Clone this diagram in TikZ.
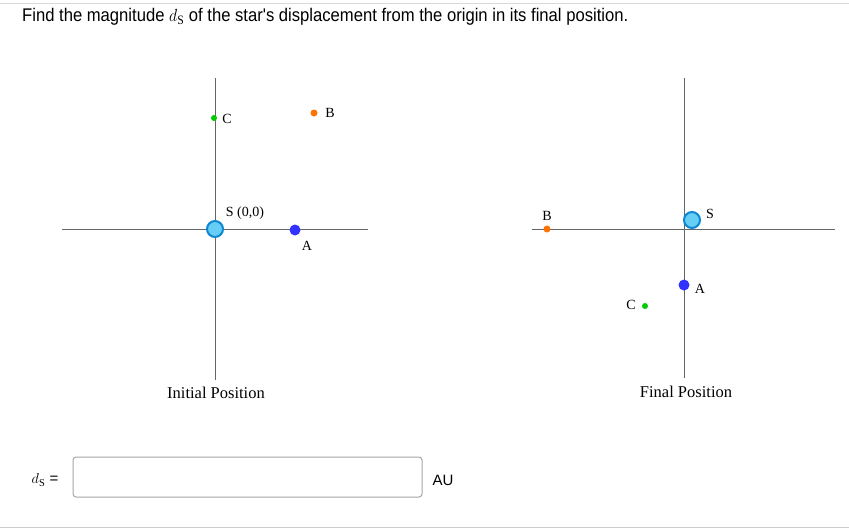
\documentclass[tikz,border=0pt]{standalone}
\usepackage{fontspec}
\usepackage{graphicx}
\setmainfont{Liberation Serif}
\newfontfamily\sansf{Liberation Sans}
\begin{document}
\begin{tikzpicture}[x=1pt,y=-1pt,
  axis/.style={draw=gray!80!black,line width=0.8pt},
  sdot/.style={circle,fill=cyan!60,draw=cyan!70!blue,line width=2pt,minimum size=16pt,inner sep=0},
  gdot/.style={circle,fill=green!80!black,minimum size=6pt,inner sep=0},
  odot/.style={circle,fill=orange!90!red,minimum size=7pt,inner sep=0},
  bdot/.style={circle,fill=blue!80,minimum size=11pt,inner sep=0},
  lbl/.style={font=\fontsize{14}{16}\selectfont,inner sep=0},
  captxt/.style={font=\fontsize{16.5}{18}\selectfont,inner sep=0},
  sans/.style={font=\sansf\fontsize{15}{17}\selectfont,inner sep=0}]
\useasboundingbox (0,0) rectangle (849,531);
\fill[white] (0,0) rectangle (849,531);
\draw[gray!30] (0,3) -- (849,3);
\draw[gray!40] (0,527) -- (849,527);
\node[sans,anchor=west] (title) at (22,17) {\resizebox{606pt}{!}{\scalebox{1}[1.1]{Find the magnitude $d_{\mathrm S}$ of the star's displacement from the origin in its final position.}}};
% left
\coordinate (lt) at (215,78); \coordinate (lb) at (215,380);
\coordinate (ll) at (62,229); \coordinate (lr) at (368,229);
\draw[axis] (lt) -- (lb); \draw[axis] (ll) -- (lr);
\node[gdot] (c1) at (214,118) {}; \node[lbl] (c1l) at (227,119) {C};
\node[odot] (b1) at (314,113) {}; \node[lbl] (b1l) at (330,113) {B};
\node[lbl] (s1l) at (245,213) {S (0,0)};
\node[bdot] (a1) at (295,230) {}; \node[lbl] (a1l) at (307,246) {A};
\node[sdot] (s1) at (215,229) {};
\node[captxt] (ip) at (216,393) {Initial Position};
% right
\coordinate (rt) at (684,78); \coordinate (rb) at (684,378);
\coordinate (rl) at (532,229); \coordinate (rr) at (835,229);
\draw[axis] (rt) -- (rb); \draw[axis] (rl) -- (rr);
\node[odot] (b2) at (547,229) {}; \node[lbl] (b2l) at (547,216) {B};
\node[lbl] (s2l) at (710,214) {S};
\node[bdot] (a2) at (684,285) {}; \node[lbl] (a2l) at (700,289) {A};
\node[gdot] (c2) at (645,306) {}; \node[lbl] (c2l) at (631,305) {C};
\node[sdot] (s2) at (692,220) {};
\node[captxt] (fp) at (686,392) {Final Position};
% answer
\node[sans] (ds) at (45,480) {$d_{\mathrm S}$ =};
\draw[gray!70,line width=1pt,rounded corners=3pt] (73,457) rectangle (422,497);
\node[sans] (au) at (443,480) {AU};
\end{tikzpicture}
\end{document}
